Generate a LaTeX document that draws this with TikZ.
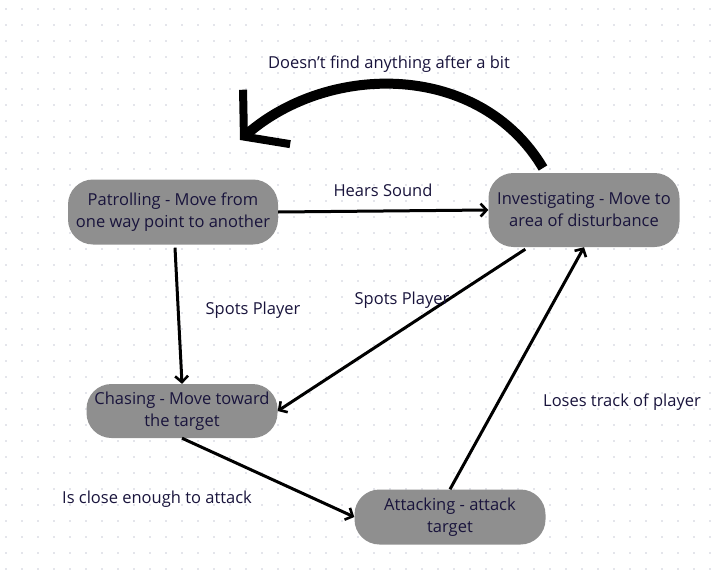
\documentclass[tikz,border=0pt]{standalone}
\usepackage{fontspec}
\setmainfont{Open Sans}
\usetikzlibrary{arrows.meta}
\definecolor{stategray}{RGB}{143,143,143}
\definecolor{txt}{RGB}{25,20,60}
\definecolor{dotc}{RGB}{200,202,215}
\tikzset{
  state/.style={rectangle, rounded corners=25pt, fill=stategray, text=txt,
    align=center, inner sep=2pt, font=\fontsize{16.5}{22}\selectfont},
  lbl/.style={text=txt, font=\fontsize{16.5}{18}\selectfont},
  arrow/.style={line width=3pt, -{Straight Barb[length=6pt,width=13pt,line width=2.6pt]}},
}
\begin{document}
\begin{tikzpicture}[x=1pt,y=-1pt]
    \useasboundingbox (0,0) rectangle (720,575);
    % dotted grid
    \foreach \i in {0,...,44} {
        \foreach \j in {0,...,35} {
            \fill[dotc] (6+16*\i, 9+16*\j) circle (0.8pt);
        }
    }

    % states
    \node (patrol) at (173,212) [state, minimum width=210pt, minimum height=65pt]
        {Patrolling - Move from\\one way point to another};
    \node (invest) at (584,210) [state, minimum width=191pt, minimum height=74pt]
        {Investigating - Move to\\area of disturbance};
    \node (chase) at (182,411) [state, minimum width=191pt, minimum height=54pt]
        {Chasing - Move toward\\the target};
    \node (attack) at (450,517) [state, minimum width=191pt, minimum height=55pt]
        {Attacking - attack\\target};

    % transitions
    \draw[arrow] (patrol.east) -- (invest.west);
    \draw[arrow] (patrol.south) ++(2,3) coordinate (p1) (p1) -- (chase.north);
    \draw[arrow] (invest.south west) ++(37,2) coordinate (i1) (i1) -- (chase.east);
    \draw[arrow] (chase.south) -- (attack.west);
    \draw[arrow] (attack.north) -- (invest.south);

    % big return arrow
    \coordinate (r0) at (543,168);
    \coordinate (r1) at (240,140);
    \draw[line width=10pt, -{Straight Barb[length=30pt,width=72pt,line width=8pt]}]
        (r0) .. controls (480,62) and (330,62) .. (r1);

    % labels
    \node (l1) at (383,190) [lbl] {Hears Sound};
    \node (l2) at (253,310) [lbl] {Spots Player};
    \node (l3) at (402,300) [lbl] {Spots Player};
    \node (l4) at (157,499) [lbl] {Is close enough to attack};
    \node (l5) at (622,402) [lbl] {Loses track of player};
    \node (l6) at (389,64) [lbl] {Doesn’t find anything after a bit};
\end{tikzpicture}
\end{document}
